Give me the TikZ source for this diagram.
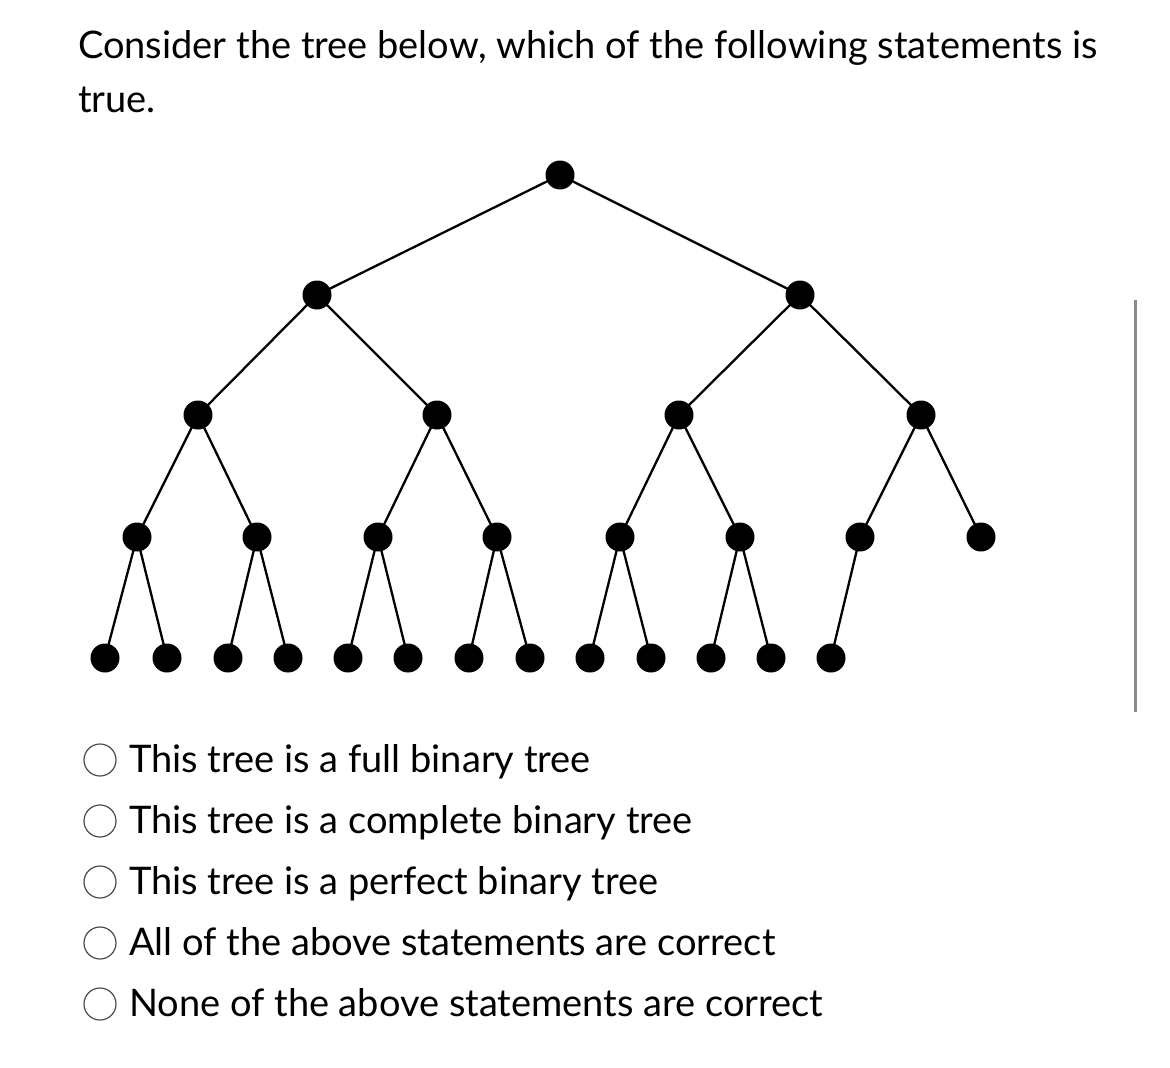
\documentclass[tikz,border=0pt]{standalone}
\usepackage{fontspec}
\setmainfont{Lato}
\begin{document}
\begin{tikzpicture}[x=1pt,y=-1pt,
  dot/.style={circle,fill=black,inner sep=0pt,minimum size=29pt},
  edge/.style={line width=2.3pt},
  radio/.style={circle,draw=black!70,line width=1.2pt,inner sep=0pt,minimum size=32pt},
  txt/.style={anchor=base west,inner sep=0pt,font=\fontsize{38}{44}\selectfont}]
\useasboundingbox (0,0) rectangle (1170,1068);
\node[txt] (t1) at (78,58) {Consider the tree below, which of the following statements is};
\node[txt] (t2) at (78,112) {true.};
\node[dot] (r) at (560,175) {};
\node[dot] (a) at (317,295) {};
\node[dot] (b) at (800,295) {};
\node[dot] (a1) at (198,415) {};
\node[dot] (a2) at (437,415) {};
\node[dot] (b1) at (679,415) {};
\node[dot] (b2) at (921,415) {};
\foreach \n/\x in {c1/137,c2/257,c3/378,c4/497,c5/620,c6/740,c7/860,c8/981}
  \node[dot] (\n) at (\x,537) {};
\foreach \n/\x in {d1/105,d2/167,d3/228,d4/288,d5/348,d6/408,d7/469,d8/530,d9/590,d10/651,d11/711,d12/771,d13/831}
  \node[dot] (\n) at (\x,658) {};
\foreach \p/\c in {r/a,r/b,a/a1,a/a2,b/b1,b/b2,a1/c1,a1/c2,a2/c3,a2/c4,b1/c5,b1/c6,b2/c7,b2/c8,
  c1/d1,c1/d2,c2/d3,c2/d4,c3/d5,c3/d6,c4/d7,c4/d8,c5/d9,c5/d10,c6/d11,c6/d12,c7/d13}
  \draw[edge] (\p.center) -- (\c.center);
\draw[line width=3pt,black!45] (1135,300) -- (1135,712);
\foreach \i/\y/\s in {1/760/This tree is a full binary tree,2/821/This tree is a complete binary tree,3/882/This tree is a perfect binary tree,4/943/All of the above statements are correct,5/1004/None of the above statements are correct}{
  \node[radio] (o\i) at (100,\y) {};
  \node[txt] (s\i) at (129,\y+12) {\s};
}
\end{tikzpicture}
\end{document}
